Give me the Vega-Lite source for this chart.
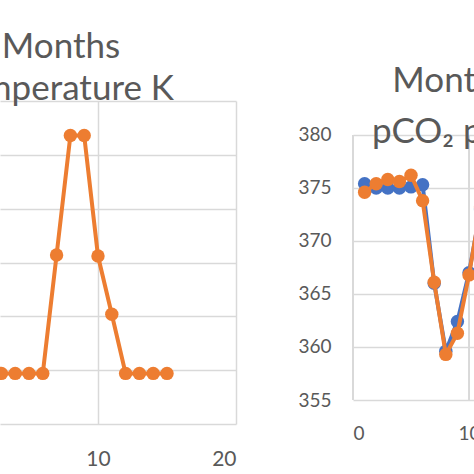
{
  "$schema": "https://vega.github.io/schema/vega-lite/v6.json",
  "autosize": {"type": "none"},
  "padding": {"left": 0, "top": 101, "right": 474, "bottom": 373},
  "background": "white",
  "bounds": "flush",
  "spacing": 117,
  "config": {
    "view": {"stroke": null},
    "axis": {
      "gridColor": "#d9d9d9", "gridWidth": 1.5, "domain": false, "ticks": false,
      "labelColor": "#595959", "labelFont": "Lato", "labelFontSize": 19, "title": null
    },
    "title": {"font": "Lato", "fontSize": 35, "fontWeight": "normal", "color": "#595959", "anchor": "middle", "baseline": "bottom"}
  },
  "datasets": {
    "temp": [
      {"month": 1, "temperature": 274.7}, {"month": 2, "temperature": 274.7}, {"month": 3, "temperature": 274.7},
      {"month": 4, "temperature": 274.7}, {"month": 5, "temperature": 274.7}, {"month": 6, "temperature": 274.7},
      {"month": 7, "temperature": 285.7}, {"month": 8, "temperature": 296.8}, {"month": 9, "temperature": 296.8},
      {"month": 10, "temperature": 285.6}, {"month": 11, "temperature": 280.2}, {"month": 12, "temperature": 274.7},
      {"month": 13, "temperature": 274.7}, {"month": 14, "temperature": 274.7}, {"month": 15, "temperature": 274.7}
    ],
    "pco2": [
      {"month": 1, "series": "Series1", "pco2": 375.4}, {"month": 2, "series": "Series1", "pco2": 375.0},
      {"month": 3, "series": "Series1", "pco2": 375.0}, {"month": 4, "series": "Series1", "pco2": 375.0},
      {"month": 5, "series": "Series1", "pco2": 375.1}, {"month": 6, "series": "Series1", "pco2": 375.3},
      {"month": 7, "series": "Series1", "pco2": 366.0}, {"month": 8, "series": "Series1", "pco2": 359.6},
      {"month": 9, "series": "Series1", "pco2": 362.4}, {"month": 10, "series": "Series1", "pco2": 367.0},
      {"month": 11, "series": "Series1", "pco2": 373.0}, {"month": 12, "series": "Series1", "pco2": 375.2},
      {"month": 13, "series": "Series1", "pco2": 375.1}, {"month": 14, "series": "Series1", "pco2": 375.0},
      {"month": 15, "series": "Series1", "pco2": 375.0},
      {"month": 1, "series": "Series2", "pco2": 374.6}, {"month": 2, "series": "Series2", "pco2": 375.4},
      {"month": 3, "series": "Series2", "pco2": 375.8}, {"month": 4, "series": "Series2", "pco2": 375.6},
      {"month": 5, "series": "Series2", "pco2": 376.2}, {"month": 6, "series": "Series2", "pco2": 373.8},
      {"month": 7, "series": "Series2", "pco2": 366.1}, {"month": 8, "series": "Series2", "pco2": 359.3},
      {"month": 9, "series": "Series2", "pco2": 361.3}, {"month": 10, "series": "Series2", "pco2": 366.8},
      {"month": 11, "series": "Series2", "pco2": 373.2}, {"month": 12, "series": "Series2", "pco2": 375.3},
      {"month": 13, "series": "Series2", "pco2": 375.4}, {"month": 14, "series": "Series2", "pco2": 375.5},
      {"month": 15, "series": "Series2", "pco2": 375.6}
    ]
  },
  "hconcat": [
    {
      "width": 236,
      "height": 323,
      "title": {"text": ["Months", "Temperature K"], "dx": -57, "lineHeight": 42, "offset": -6},
      "data": {"name": "temp"},
      "encoding": {
        "x": {"field": "month", "type": "quantitative", "scale": {"domain": [2.9, 20], "nice": false, "zero": false},
              "axis": {"values": [10, 20], "grid": true, "labelFontSize": 21, "labelPadding": 24}},
        "y": {"field": "temperature", "type": "quantitative", "scale": {"domain": [270, 300], "nice": false, "zero": false},
              "axis": {"values": [270, 275, 280, 285, 290, 295, 300], "grid": true, "labels": false}}
      },
      "layer": [
        {"mark": {"type": "line", "color": "#ED7D31", "strokeWidth": 4}},
        {"mark": {"type": "circle", "color": "#ED7D31", "opacity": 1, "size": 180}}
      ]
    },
    {
      "width": 121,
      "height": 299,
      "title": {"text": ["Months", "pCO₂ ppm"], "dx": 38, "lineHeight": 51, "offset": -49},
      "data": {"name": "pco2"},
      "layer": [
        {"mark": {"type": "rule", "color": "#d9d9d9", "strokeWidth": 1.5},
         "encoding": {"x": {"datum": 0, "type": "quantitative"}, "y": {"datum": 355, "type": "quantitative"}, "y2": {"datum": 380}}},
        {"mark": {"type": "rule", "color": "#d9d9d9", "strokeWidth": 1.5},
         "encoding": {"x": {"datum": 10, "type": "quantitative"}, "y": {"datum": 355, "type": "quantitative"}, "y2": {"datum": 380}}},
        {
          "transform": [{"filter": "datum.series == 'Series1'"}],
          "encoding": {
            "x": {"field": "month", "type": "quantitative"},
            "y": {"field": "pco2", "type": "quantitative"}
          },
          "layer": [
            {"mark": {"type": "line", "color": "#4472C4", "strokeWidth": 4}},
            {"mark": {"type": "circle", "color": "#4472C4", "opacity": 1, "size": 180}}
          ]
        },
        {
          "transform": [{"filter": "datum.series == 'Series2'"}],
          "encoding": {
            "x": {"field": "month", "type": "quantitative"},
            "y": {"field": "pco2", "type": "quantitative"}
          },
          "layer": [
            {"mark": {"type": "line", "color": "#ED7D31", "strokeWidth": 4}},
            {"mark": {"type": "circle", "color": "#ED7D31", "opacity": 1, "size": 180}}
          ]
        }
      ],
      "encoding": {
        "x": {"type": "quantitative", "scale": {"domain": [0, 10.43], "nice": false, "zero": false},
              "axis": {"values": [0, 10, 20], "grid": false, "labelPadding": 24}},
        "y": {"type": "quantitative", "scale": {"domain": [355, 383.2], "nice": false, "zero": false},
              "axis": {"values": [355, 360, 365, 370, 375, 380], "grid": true, "labelPadding": 22}}
      }
    }
  ]
}
